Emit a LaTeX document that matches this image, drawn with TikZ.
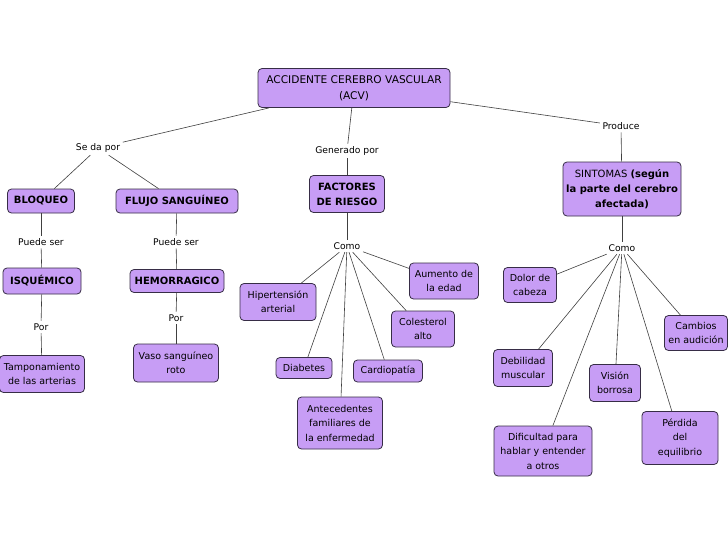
\documentclass[tikz,border=0pt]{standalone}
\usepackage{fontspec}
\setmainfont{DejaVu Sans}
\definecolor{boxfill}{RGB}{199,157,245}
\definecolor{boxedge}{RGB}{55,45,70}
\begin{document}
\begin{tikzpicture}[x=1pt,y=-1pt,
  box/.style={draw=boxedge, line width=0.8pt, fill=boxfill, rounded corners=4pt,
    align=center, inner sep=1pt, font=\fontsize{9.5}{14.5}\selectfont},
  bx/.style 2 args={box, minimum width=#1, minimum height=#2},
  ttl/.style={font=\fontsize{10}{15}\selectfont\bfseries},
  lbl/.style={font=\fontsize{9.2}{10}\selectfont, inner sep=2.5pt, fill=white},
  link/.style={draw=black!75, line width=0.6pt}]
\fill[white] (0,0) rectangle (728,546);
\useasboundingbox (0,0) rectangle (728,546);

% top
\node[bx={192}{39}, font=\fontsize{10.6}{16}\selectfont] (acv) at (354,88) {ACCIDENTE CEREBRO VASCULAR\\(ACV)};
\node[lbl] (sedapor) at (98,148) {Se da por};
\node[lbl] (generado) at (347,151) {Generado por};
\node[lbl] (produce) at (621,126) {Produce};

% left branch
\node[bx={67}{24}, ttl] (bloqueo) at (41,201) {BLOQUEO};
\node[bx={122}{24}, ttl] (flujo) at (177,201) {FLUJO SANGUÍNEO};
\node[lbl] (puede1) at (41,242) {Puede ser};
\node[lbl] (puede2) at (176,242) {Puede ser};
\node[bx={78}{26}, ttl] (isq) at (42,281) {ISQUÉMICO};
\node[bx={94}{23}, ttl] (hem) at (177,281) {HEMORRAGICO};
\node[lbl] (por1) at (41,327) {Por};
\node[lbl] (por2) at (176,318) {Por};
\node[bx={85}{37}] (tamp) at (42,374) {Tamponamiento\\de las arterias};
\node[bx={85}{38}] (vaso) at (176,363) {Vaso sanguíneo\\roto};

% middle branch
\node[bx={75}{37}, ttl] (fact) at (347,194) {FACTORES\\DE RIESGO};
\node[lbl] (como1) at (347,246) {Como};
\node[bx={76}{37}] (hip) at (278,302) {Hipertensión\\arterial};
\node[bx={69}{36}] (aum) at (444,281) {Aumento de\\la edad};
\node[bx={63}{36}] (col) at (423,329) {Colesterol\\alto};
\node[bx={56}{21}] (diab) at (304,368) {Diabetes};
\node[bx={69}{22}] (card) at (388,371) {Cardiopatía};
\node[bx={85}{52}] (ante) at (340,423) {Antecedentes\\familiares de\\la enfermedad};

% right branch
\node[bx={118}{54}, font=\fontsize{10}{15}\selectfont] (sint) at (622,189) {SINTOMAS \textbf{(según}\\\textbf{la parte del cerebro}\\\textbf{afectada)}};
\node[lbl] (como2) at (622,248) {Como};
\node[bx={53}{35}] (dolor) at (530,285) {Dolor de\\cabeza};
\node[bx={63}{35}] (camb) at (696,333) {Cambios\\en audición};
\node[bx={59}{37}] (debil) at (523,368) {Debilidad\\muscular};
\node[bx={51}{37}] (vision) at (615,383) {Visión\\borrosa};
\node[bx={98}{50}] (dific) at (543,451) {Dificultad para\\hablar y entender\\a otros};
\node[bx={76}{53}] (perd) at (680,438) {Pérdida\\del\\equilibrio};

% connectors
\draw[link] (acv) -- (sedapor);
\draw[link] (acv) -- (generado);
\draw[link] (acv) -- (produce);
\draw[link] (sedapor) -- (bloqueo);
\draw[link] (sedapor) -- (flujo);
\draw[link] (bloqueo) -- (puede1);
\draw[link] (puede1) -- (isq);
\draw[link] (isq) -- (por1);
\draw[link] (por1) -- (tamp);
\draw[link] (flujo) -- (puede2);
\draw[link] (puede2) -- (hem);
\draw[link] (hem) -- (por2);
\draw[link] (por2) -- (vaso);
\draw[link] (generado) -- (fact);
\draw[link] (fact) -- (como1);
\foreach \n in {hip,aum,col,diab,card,ante} \draw[link] (como1) -- (\n);
\draw[link] (produce) -- (sint);
\draw[link] (sint) -- (como2);
\foreach \n in {dolor,camb,debil,vision,dific,perd} \draw[link] (como2) -- (\n);
\end{tikzpicture}
\end{document}
